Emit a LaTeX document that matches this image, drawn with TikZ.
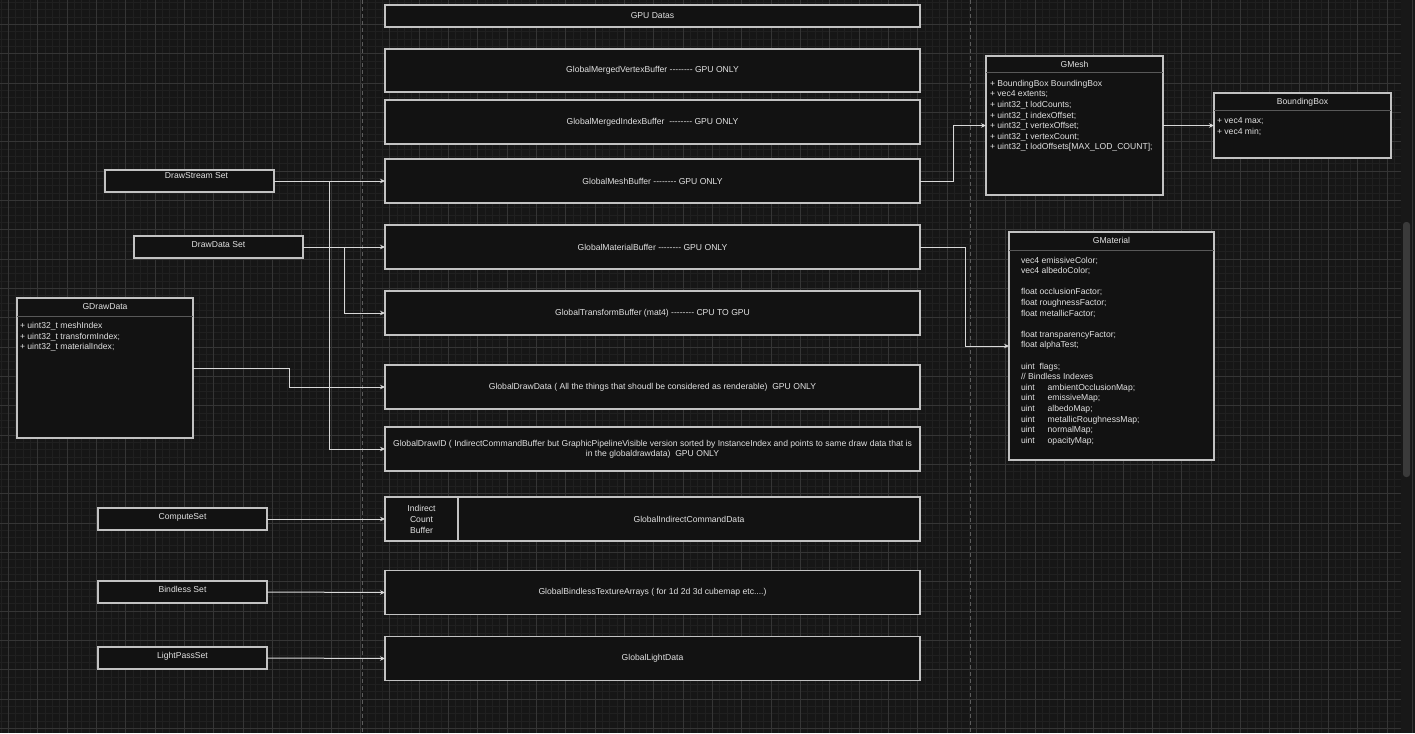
\documentclass[tikz,border=0pt]{standalone}
\usepackage{fontspec}
\setmainfont{Liberation Sans}
\usepackage{tikz}
\usetikzlibrary{arrows.meta, positioning}
\usepackage{xcolor}
\definecolor{canvas}{HTML}{161616}
\definecolor{gridminor}{HTML}{202020}
\definecolor{gridmajor}{HTML}{353535}
\definecolor{boxfill}{HTML}{121212}
\definecolor{boxline}{HTML}{C2C2C2}
\definecolor{sepline}{HTML}{585858}
\definecolor{linkline}{HTML}{D8D8D8}
\definecolor{laneline}{HTML}{5C5C5C}
\definecolor{fgtext}{HTML}{E2E2E2}
\definecolor{scrolltrack}{HTML}{181818}
\definecolor{scrollthumb}{HTML}{3A3A3A}
\newcommand{\eightdash}{\mbox{-}\mbox{-}\mbox{-}\mbox{-}\mbox{-}\mbox{-}\mbox{-}\mbox{-}}

\begin{document}
\begin{tikzpicture}[x=1pt,y=-1pt,>={Stealth[length=5pt,width=4.5pt]},
    every node/.style={font=\fontsize{8.6}{10.6}\selectfont,text=fgtext,inner sep=0pt,outer sep=0pt},
    buffer/.style={draw=boxline,fill=boxfill,line width=1.1pt,minimum width=535pt,minimum height=44pt},
    setbox/.style={draw=boxline,fill=boxfill,line width=1.1pt,minimum width=169pt,minimum height=22pt,text height=6.2pt,text depth=6.2pt},
    classbox/.style={draw=boxline,fill=boxfill,line width=1.1pt},
    sep/.style={draw=sepline,line width=1pt},
    link/.style={draw=linkline,line width=1pt,->},
    lane/.style={draw=laneline,line width=1pt,dash pattern=on 4pt off 3pt},
    minorline/.style={draw=gridminor,line width=0.6pt},
    majorline/.style={draw=gridmajor,line width=0.8pt}]
    \useasboundingbox (0,0) rectangle (1415,733);
    \fill[canvas] (0,0) rectangle (1415,733);
    % canvas grid
    \foreach \k in {-1,...,189} \draw[minorline] ({8.3+7.333*\k},0) -- ++(0,733);
    \foreach \k in {1,...,100} \draw[minorline] (0,{-5+7.333*\k}) -- (1401,{-5+7.333*\k});
    \foreach \k in {0,...,47} \draw[majorline] ({8.3+29.333*\k},0) -- ++(0,733);
    \foreach \k in {1,...,25} \draw[majorline] (0,{-5+29.333*\k}) -- (1401,{-5+29.333*\k});
    \fill[scrolltrack] (1401,0) rectangle (1415,733);
    \draw[gridmajor] (1412.5,0) -- (1412.5,733);
    \fill[scrollthumb,rounded corners=3pt] (1403,222) rectangle (1410,477);
    \draw[lane] (362.5,0) -- (362.5,733);
    \draw[lane] (970,0) -- (970,733);

    % gpu buffers
    \node[buffer,minimum height=22pt] (gpudatas) at (652.5,16) {GPU Datas};
    \node[buffer,minimum height=43pt] (vertexbuf) at (652.5,70.5) {GlobalMergedVertexBuffer \eightdash{} GPU ONLY};
    \node[buffer] (indexbuf) at (652.5,122) {GlobalMergedIndexBuffer\ \ \eightdash{} GPU ONLY};
    \node[buffer] (meshbuf) at (652.5,181) {GlobalMeshBuffer \eightdash{} GPU ONLY};
    \node[buffer] (materialbuf) at (652.5,247) {GlobalMaterialBuffer \eightdash{} GPU ONLY};
    \node[buffer] (transformbuf) at (652.5,313) {GlobalTransformBuffer (mat4) \eightdash{} CPU TO GPU};
    \node[buffer] (drawdata) at (652.5,387) {GlobalDrawData ( All the things that shoudl be considered as renderable)\ \ GPU ONLY};
    \node[buffer,align=center,font=\fontsize{8.6}{10}\selectfont] (drawid) at (652.5,449) {GlobalDrawID ( IndirectCommandBuffer but GraphicPipelineVisible version sorted by InstanceIndex and points to same draw data that is\\ in the globaldrawdata)\ \ GPU ONLY};
    \node[buffer,minimum width=73pt,align=center,font=\fontsize{8.6}{11}\selectfont] (countbuf) at (421.5,519) {Indirect\\Count\\Buffer};
    \node[buffer,minimum width=462pt,right=0pt of countbuf] (indirectbuf) {GlobalIndirectCommandData};
    \node[buffer] (bindlessbuf) at (652.5,592.5) {GlobalBindlessTextureArrays ( for 1d 2d 3d cubemap etc....)};
    \node[buffer] (lightbuf) at (652.5,658.5) {GlobalLightData};

    % descriptor sets
    \node[setbox,text height=3.2pt,text depth=9.2pt] (streamset) at (189.5,181) {\hspace{14pt}DrawStream Set};
    \node[setbox] (dataset) at (218.5,247) {DrawData Set};
    \node[setbox] (computeset) at (182.5,519) {ComputeSet};
    \node[setbox] (bindlessset) at (182.5,592) {Bindless Set};
    \node[setbox] (lightset) at (182.5,658) {LightPassSet};

    % structs
    \node[classbox,minimum width=176pt,minimum height=140pt] (gdrawdata) at (105,368) {};
    \node[anchor=base] (gdrawdatatitle) at (105,309.1) {GDrawData};
    \draw[sep] ([yshift=-18pt]gdrawdata.north west) -- ([yshift=-18pt]gdrawdata.north east);
    \node[anchor=north west,align=left] (gdrawdatabody) at (20,322.5) {+ uint32\_t meshIndex\\+ uint32\_t transformIndex;\\+ uint32\_t materialIndex;};

    \node[classbox,minimum width=177pt,minimum height=139pt] (gmesh) at (1074.5,125.5) {};
    \node[anchor=base] (gmeshtitle) at (1074.5,67.1) {GMesh};
    \draw[sep] ([yshift=-17pt]gmesh.north west) -- ([yshift=-17pt]gmesh.north east);
    \node[anchor=north west,align=left] (gmeshbody) at (990,80.1) {+ BoundingBox BoundingBox\\+ vec4 extents;\\+ uint32\_t lodCounts;\\+ uint32\_t indexOffset;\\+ uint32\_t vertexOffset;\\+ uint32\_t vertexCount;\\+ uint32\_t lodOffsets[MAX\_LOD\_COUNT];};

    \node[classbox,minimum width=177pt,minimum height=65pt] (bbox) at (1302.5,125.5) {};
    \node[anchor=base] (bboxtitle) at (1302.5,104.1) {BoundingBox};
    \draw[sep] ([yshift=-18pt]bbox.north west) -- ([yshift=-18pt]bbox.north east);
    \node[anchor=north west,align=left] (bboxbody) at (1217,117.8) {+ vec4 max;\\+ vec4 min;};

    \node[classbox,minimum width=205pt,minimum height=228pt] (gmaterial) at (1111.5,346) {};
    \node[anchor=base] (gmaterialtitle) at (1111.5,243.1) {GMaterial};
    \draw[sep] ([yshift=-18pt]gmaterial.north west) -- ([yshift=-18pt]gmaterial.north east);
    \node[anchor=north west,align=left] (gmaterialbody) at (1021,256.8) {vec4 emissiveColor;\\vec4 albedoColor;\\[10.6pt]
        float occlusionFactor;\\float roughnessFactor;\\float metallicFactor;\\[10.6pt]
        float transparencyFactor;\\float alphaTest;\\[10.6pt]
        uint\ \ flags;\\// Bindless Indexes\\
        \makebox[26.7pt][l]{uint}ambientOcclusionMap;\\
        \makebox[26.7pt][l]{uint}emissiveMap;\\
        \makebox[26.7pt][l]{uint}albedoMap;\\
        \makebox[26.7pt][l]{uint}metallicRoughnessMap;\\
        \makebox[26.7pt][l]{uint}normalMap;\\
        \makebox[26.7pt][l]{uint}opacityMap;};

    % bindings
    \path[link] (streamset.east) -- (meshbuf.west);
    \path[link] (streamset.east) -- ++(55,0) |- (drawid.west);
    \path[link] (dataset.east) -- (materialbuf.west);
    \path[link] (dataset.east) -- ++(41,0) |- (transformbuf.west);
    \path[link] (gdrawdata.east) -- ++(96,0) |- (drawdata.west);
    \path[link] (computeset.east) -- (countbuf.west);
    \path[link] (bindlessset.east) -- (bindlessbuf.west);
    \path[link] (lightset.east) -- (lightbuf.west);
    \path[link] (meshbuf.east) -- ++(33,0) |- (gmesh.west);
    \path[link] (materialbuf.east) -- ++(45,0) |- (gmaterial.west);
    \path[link] (gmesh.east) -- (bbox.west);
\end{tikzpicture}
\end{document}
